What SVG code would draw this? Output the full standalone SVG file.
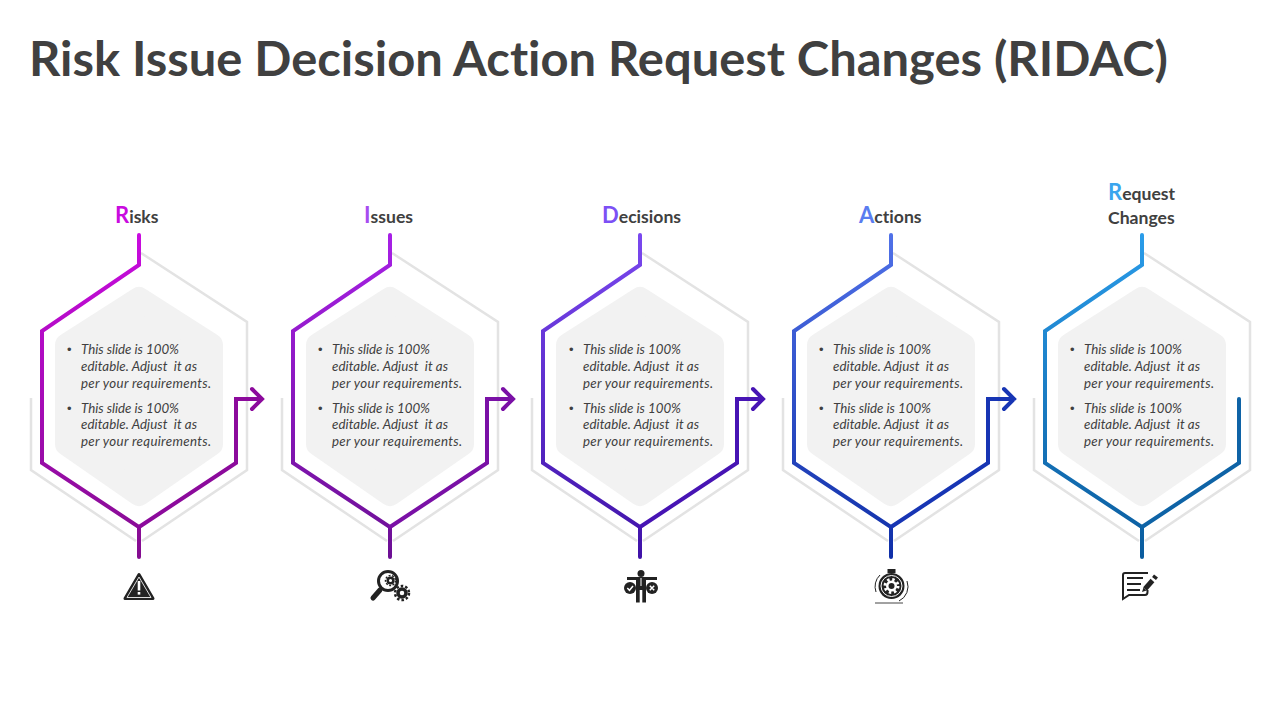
<svg xmlns="http://www.w3.org/2000/svg" width="1280" height="720" viewBox="0 0 1280 720">
<style>
.title{font:700 47px Lato,"Liberation Sans",sans-serif;fill:#404040}
.lab{font:700 17.600px Lato,"Liberation Sans",sans-serif;fill:#404040}
.cap{font-size:22px}
.body{font:italic 400 13.300px Lato,"Liberation Sans",sans-serif;fill:#404040;white-space:pre}
.title,.lab,.body{font-variant-ligatures:none}
.bul{font:400 13px "Liberation Sans",sans-serif;fill:#404040}
.out{fill:none;stroke:#e3e3e3;stroke-width:2.500}
.pan{fill:#f2f2f2;stroke:#f2f2f2;stroke-width:24;stroke-linejoin:round}
.con{fill:none;stroke-width:4;stroke-linecap:round;stroke-linejoin:miter}
.ic{fill:#222}
.icl{fill:none;stroke:#222;stroke-width:2}
.w{fill:#fff}
</style>
<defs>
<linearGradient id="g1" gradientUnits="userSpaceOnUse" x1="0" y1="235" x2="0" y2="557"><stop offset="0" stop-color="#c90bdf"/><stop offset="1" stop-color="#840c90"/></linearGradient>
<linearGradient id="g2" gradientUnits="userSpaceOnUse" x1="0" y1="235" x2="0" y2="557"><stop offset="0" stop-color="#a720e6"/><stop offset="1" stop-color="#6c0f94"/></linearGradient>
<linearGradient id="g3" gradientUnits="userSpaceOnUse" x1="0" y1="235" x2="0" y2="557"><stop offset="0" stop-color="#7a48ef"/><stop offset="1" stop-color="#3f12a8"/></linearGradient>
<linearGradient id="g4" gradientUnits="userSpaceOnUse" x1="0" y1="235" x2="0" y2="557"><stop offset="0" stop-color="#5071e8"/><stop offset="1" stop-color="#0f2fa8"/></linearGradient>
<linearGradient id="g5" gradientUnits="userSpaceOnUse" x1="0" y1="235" x2="0" y2="557"><stop offset="0" stop-color="#2a9ce9"/><stop offset="1" stop-color="#0a5c9e"/></linearGradient>
<g id="back">
<path class="out" d="M141 253L247 322V470L142 541M136 541L31 470V398"/>
<path class="pan" d="M139 299L211 345V444L139 494L67 444V345Z"/>
</g>
</defs>
<text class="title" x="29" y="76" textLength="1139" lengthAdjust="spacingAndGlyphs">Risk Issue Decision Action Request Changes (RIDAC)</text>

<g id="backs">
<use href="#back"/><use href="#back" x="251"/><use href="#back" x="501"/><use href="#back" x="752"/><use href="#back" x="1003"/>
</g>

<g id="connectors">
<path class="con" stroke="url(#g1)" d="M139 235V265L42 331V463L139 527V557"/>
<path class="con" stroke="#8c0a9c" d="M139 527L236 463V399H262M252 389L262 399L252 409"/>
<path class="con" stroke="url(#g2)" d="M390 235V265L293 331V463L390 527V557"/>
<path class="con" stroke="#7a10a6" d="M390 527L487 463V399H513M503 389L513 399L503 409"/>
<path class="con" stroke="url(#g3)" d="M640 235V265L543 331V463L640 527V557"/>
<path class="con" stroke="#4714b4" d="M640 527L737 463V399H763M753 389L763 399L753 409"/>
<path class="con" stroke="url(#g4)" d="M891 235V265L794 331V463L891 527V557"/>
<path class="con" stroke="#1735b4" d="M891 527L988 463V399H1014M1004 389L1014 399L1004 409"/>
<path class="con" stroke="url(#g5)" d="M1142 235V265L1045 331V463L1142 527V557"/>
<path class="con" stroke="#0e63a6" d="M1142 527L1239 463V399"/>
</g>

<g id="node-risks">
<text class="lab" x="115" y="223"><tspan class="cap" style="fill:#c90bdf">R</tspan>isks</text>
<text class="bul" x="67" y="354">•</text><text class="body" x="81" y="354" textLength="98">This slide is 100%</text><text class="body" x="81" y="371" textLength="116">editable. Adjust  it as</text><text class="body" x="81" y="388" textLength="130">per your requirements.</text>
<text class="bul" x="67" y="413">•</text><text class="body" x="81" y="413" textLength="98">This slide is 100%</text><text class="body" x="81" y="429" textLength="116">editable. Adjust  it as</text><text class="body" x="81" y="446" textLength="130">per your requirements.</text>
<g id="icon-risk">
<path d="M139 574.500L153 598.500H125Z" fill="#222" stroke="#222" stroke-width="3" stroke-linejoin="round"/>
<path d="M139 577L151 597.500H127Z" fill="none" stroke="#ddd" stroke-width="1" stroke-linejoin="round"/>
<rect class="w" x="137.700" y="581" width="2.600" height="9.500"/><rect class="w" x="137.700" y="592" width="2.600" height="2.600"/>
</g>
</g>

<g id="node-issues">
<text class="lab" x="364" y="223"><tspan class="cap" style="fill:#a64cf0">I</tspan>ssues</text>
<text class="bul" x="318" y="354">•</text><text class="body" x="332" y="354" textLength="98">This slide is 100%</text><text class="body" x="332" y="371" textLength="116">editable. Adjust  it as</text><text class="body" x="332" y="388" textLength="130">per your requirements.</text>
<text class="bul" x="318" y="413">•</text><text class="body" x="332" y="413" textLength="98">This slide is 100%</text><text class="body" x="332" y="429" textLength="116">editable. Adjust  it as</text><text class="body" x="332" y="446" textLength="130">per your requirements.</text>
<g id="icon-issues">
<circle cx="402" cy="593" r="4" fill="none" stroke="#222" stroke-width="3.500"/>
<circle cx="402" cy="593" r="7" fill="none" stroke="#222" stroke-width="2.500" stroke-dasharray="2.500 2"/>
<circle cx="388" cy="581" r="9.500" fill="#fff" stroke="#222" stroke-width="3"/>
<path d="M380 590L373 598" stroke="#222" stroke-width="5" stroke-linecap="round"/>
<circle cx="390.500" cy="580.500" r="2.800" fill="none" stroke="#222" stroke-width="2.500"/>
<circle cx="390.500" cy="580.500" r="5" fill="none" stroke="#222" stroke-width="1.500" stroke-dasharray="2 1.500"/>
</g>
</g>

<g id="node-decisions">
<text class="lab" x="602" y="223"><tspan class="cap" style="fill:#7c50f5">D</tspan>ecisions</text>
<text class="bul" x="569" y="354">•</text><text class="body" x="583" y="354" textLength="98">This slide is 100%</text><text class="body" x="583" y="371" textLength="116">editable. Adjust  it as</text><text class="body" x="583" y="388" textLength="130">per your requirements.</text>
<text class="bul" x="569" y="413">•</text><text class="body" x="583" y="413" textLength="98">This slide is 100%</text><text class="body" x="583" y="429" textLength="116">editable. Adjust  it as</text><text class="body" x="583" y="446" textLength="130">per your requirements.</text>
<g id="icon-decisions">
<circle class="ic" cx="641" cy="573.500" r="3.500"/>
<path class="ic" d="M627 577H657V580H646V602.500H642.300V590H639.700V602.500H636V580H627Z"/>
<circle class="ic" cx="630" cy="588" r="6"/><circle class="ic" cx="652" cy="588" r="6"/>
<path d="M627.300 588L629.500 590.300L633 586M649.800 585.800L654.200 590.200M654.200 585.800L649.800 590.200" fill="none" stroke="#fff" stroke-width="1.500"/>
<path d="M641 578V586" stroke="#fff" stroke-width="1"/>
</g>
</g>

<g id="node-actions">
<text class="lab" x="859" y="223"><tspan class="cap" style="fill:#5a7cf0">A</tspan>ctions</text>
<text class="bul" x="819" y="354">•</text><text class="body" x="833" y="354" textLength="98">This slide is 100%</text><text class="body" x="833" y="371" textLength="116">editable. Adjust  it as</text><text class="body" x="833" y="388" textLength="130">per your requirements.</text>
<text class="bul" x="819" y="413">•</text><text class="body" x="833" y="413" textLength="98">This slide is 100%</text><text class="body" x="833" y="429" textLength="116">editable. Adjust  it as</text><text class="body" x="833" y="446" textLength="130">per your requirements.</text>
<g id="icon-actions">
<rect class="ic" x="887.500" y="569" width="8" height="4"/>
<circle class="ic" cx="891.500" cy="586" r="13"/>
<circle cx="891.500" cy="586" r="10.500" fill="none" stroke="#fff" stroke-width="1"/>
<circle class="w" cx="891.500" cy="586" r="5.500"/>
<circle cx="891.500" cy="586" r="6.500" fill="none" stroke="#fff" stroke-width="3" stroke-dasharray="2.400 2.700"/>
<circle class="ic" cx="891.500" cy="586" r="3"/>
<path d="M876 592A16 16 0 0 1 880 575M907 581A16 16 0 0 1 899 601" fill="none" stroke="#222" stroke-width="1"/>
<path d="M875 603H903" stroke="#444" stroke-width="1"/>
</g>
</g>

<g id="node-request">
<text class="lab" x="1108" y="200"><tspan class="cap" style="fill:#3aa5ee">R</tspan>equest</text>
<text class="lab" x="1108" y="224">Changes</text>
<text class="bul" x="1070" y="354">•</text><text class="body" x="1084" y="354" textLength="98">This slide is 100%</text><text class="body" x="1084" y="371" textLength="116">editable. Adjust  it as</text><text class="body" x="1084" y="388" textLength="130">per your requirements.</text>
<text class="bul" x="1070" y="413">•</text><text class="body" x="1084" y="413" textLength="98">This slide is 100%</text><text class="body" x="1084" y="429" textLength="116">editable. Adjust  it as</text><text class="body" x="1084" y="446" textLength="130">per your requirements.</text>
<g id="icon-request">
<path class="icl" d="M1148 573H1125Q1123 573 1123 575V599L1129 595H1145Q1147.500 595 1147.500 592V590"/>
<path class="icl" d="M1127 578H1143M1127 584H1141M1127 590H1140"/>
<path d="M1152.500 580.500L1145 589" stroke="#222" stroke-width="5"/>
<path d="M1143.500 587.500L1146.500 590.500L1142 592Z" class="ic"/>
<path d="M1154 578.500L1156 576" stroke="#222" stroke-width="5"/>
</g>
</g>
</svg>
